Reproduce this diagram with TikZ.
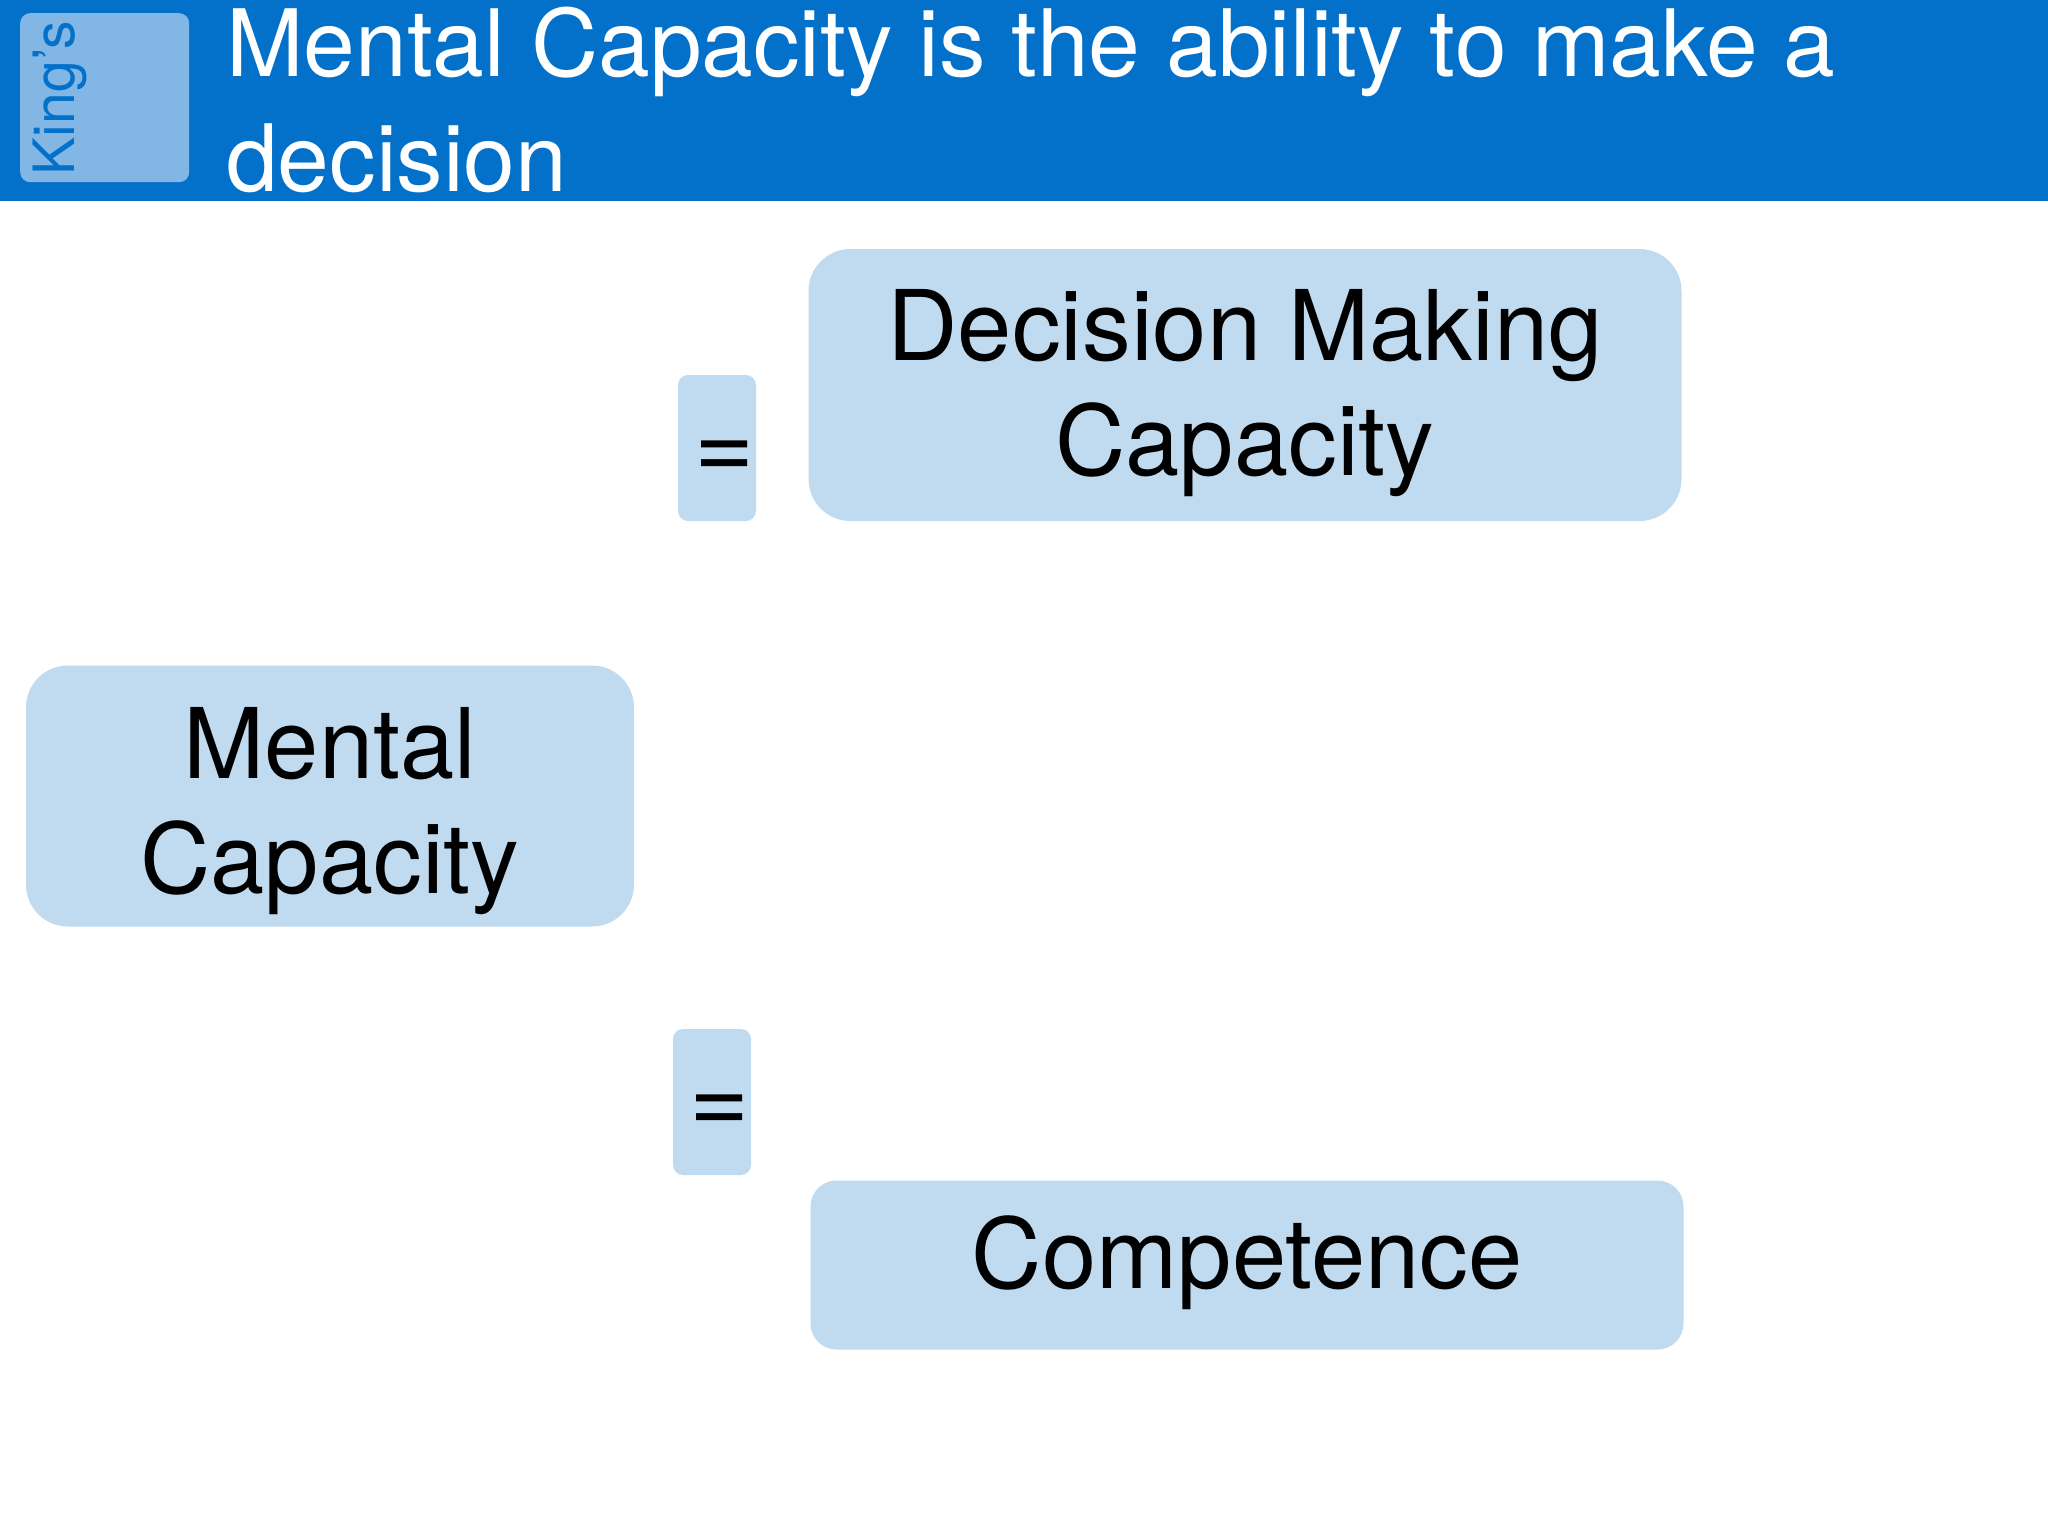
\documentclass[tikz,border=0pt]{standalone}
\usepackage{fontspec}
\setmainfont{TeX Gyre Heros}
\usepackage{tikz}
\usetikzlibrary{positioning}
\definecolor{kingblue}{HTML}{0371CA}
\definecolor{boxblue}{HTML}{C0DBF0}
\definecolor{logoblue}{HTML}{82B7E5}
\begin{document}
\begin{tikzpicture}[x=1pt,y=-1pt,font=\fontsize{97.5}{115}\selectfont]
\tikzset{
  bigbox/.style={fill=boxblue, rounded corners=42pt, inner sep=0pt},
  eqbox/.style={fill=boxblue, rounded corners=10pt, inner sep=0pt, minimum width=78pt, minimum height=146pt},
  boxtext/.style={align=center, inner sep=0pt},
  eqtext/.style={inner sep=0pt, xshift=8pt, yshift=-12pt, font=\fontsize{103}{115}\selectfont}
}
\useasboundingbox (0,0) rectangle (2048,1536);
\fill[white] (0,0) rectangle (2048,1536);
\node (banner)[fill=kingblue,minimum width=2048pt,minimum height=201pt,inner sep=0pt,anchor=north west] at (0,0) {};
\node (logo)[fill=logoblue,rounded corners=10pt,minimum width=169pt,minimum height=169pt,inner sep=0pt,anchor=north west] at (20,13) {};
\node (kings)[text=kingblue,rotate=90,font=\fontsize{57}{57}\selectfont,anchor=center] at (60,98) {King’s};
\node (title)[text=white,align=left,anchor=north west,inner sep=0pt,font=\fontsize{93}{115}\selectfont] at (226,7) {Mental Capacity is the ability to make a\\decision};
\node (mc)[bigbox,minimum width=608pt,minimum height=261pt,label={[boxtext,yshift=-15pt]center:Mental\\Capacity}] at (330,796) {};
\node (dmc)[bigbox,minimum width=873pt,minimum height=272pt,label={[boxtext,yshift=-8pt]center:Decision Making\\Capacity}] at (1245,385) {};
\node (comp)[bigbox,rounded corners=26pt,minimum width=873pt,minimum height=169pt,label={[boxtext,yshift=2pt]center:Competence}] at (1247,1265) {};
\node (eq1)[eqbox,label={[eqtext]center:=}] at (717,448) {};
\node (eq2)[eqbox,label={[eqtext]center:=}] at (712,1102) {};
\end{tikzpicture}
\end{document}
